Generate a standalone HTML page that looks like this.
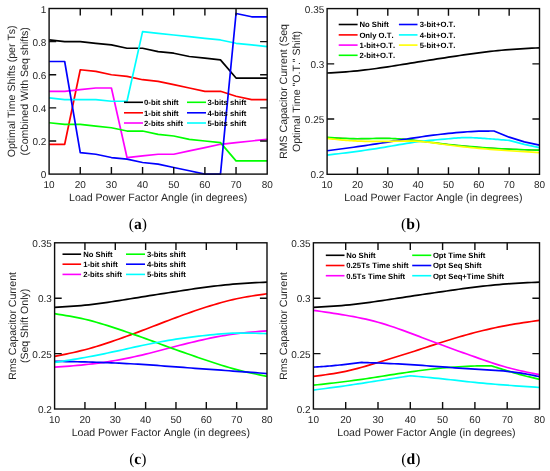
<!DOCTYPE html>
<html lang="en"><head><meta charset="utf-8"><title>Figure</title>
<style>
html,body{margin:0;padding:0;background:#fff;}
svg{display:block;}
text{text-rendering:geometricPrecision;font-kerning:none;}
.tk{font-family:'Liberation Sans', Arial, sans-serif;font-size:10px;fill:#262626;}
.lb{font-family:'Liberation Sans', Arial, sans-serif;font-size:10.55px;fill:#262626;}
.lg{font-family:'Liberation Sans', Arial, sans-serif;font-size:7.7px;font-weight:bold;fill:#000;}
.cap{font-family:'Liberation Serif', 'DejaVu Serif', serif;font-size:15.6px;fill:#000;}
</style></head><body>
<svg width="550" height="471" viewBox="0 0 550 471">
<rect width="550" height="471" fill="#fff"/>
<g>
<path d="M49.10 39.96 L64.68 41.62 L80.26 41.62 L95.84 43.28 L111.41 44.93 L126.99 48.24 L142.57 48.24 L158.15 51.56 L173.73 53.21 L189.31 56.52 L204.89 58.18 L220.46 59.84 L236.04 78.05 L251.62 78.05 L267.20 78.05" fill="none" stroke="#000000" stroke-width="1.7" stroke-linejoin="round"/>
<path d="M49.10 144.29 L64.68 144.29 L80.26 69.77 L95.84 71.43 L111.41 74.74 L126.99 76.40 L142.57 79.71 L158.15 81.36 L173.73 84.68 L189.31 87.99 L204.89 91.30 L220.46 91.30 L236.04 96.27 L251.62 99.58 L267.20 99.58" fill="none" stroke="#ff0000" stroke-width="1.7" stroke-linejoin="round"/>
<path d="M49.10 91.30 L64.68 91.30 L80.26 89.64 L95.84 87.99 L111.41 87.99 L126.99 157.54 L142.57 155.88 L158.15 154.23 L173.73 154.23 L189.31 150.92 L204.89 147.60 L220.46 144.29 L236.04 142.64 L251.62 140.98 L267.20 139.32" fill="none" stroke="#ff00ff" stroke-width="1.7" stroke-linejoin="round"/>
<path d="M49.10 122.76 L64.68 124.42 L80.26 124.42 L95.84 126.08 L111.41 127.73 L126.99 131.04 L142.57 131.04 L158.15 134.36 L173.73 136.01 L189.31 139.32 L204.89 140.98 L220.46 142.64 L236.04 160.85 L251.62 160.85 L267.20 160.85" fill="none" stroke="#00ff00" stroke-width="1.7" stroke-linejoin="round"/>
<path d="M49.10 97.92 L64.68 99.58 L80.26 99.58 L95.84 99.58 L111.41 101.24 L126.99 101.24 L142.57 31.68 L158.15 33.34 L173.73 35.00 L189.31 36.65 L204.89 38.31 L220.46 39.96 L236.04 43.28 L251.62 44.93 L267.20 46.59" fill="none" stroke="#00ffff" stroke-width="1.7" stroke-linejoin="round"/>
<path d="M49.10 61.49 L64.68 61.49 L80.26 152.57 L95.84 154.23 L111.41 157.54 L126.99 159.20 L142.57 162.51 L158.15 164.16 L173.73 167.48 L189.31 170.79 L204.89 174.10 L220.46 174.10 L236.04 13.47 L251.62 16.78 L267.20 16.78" fill="none" stroke="#0000ff" stroke-width="1.7" stroke-linejoin="round"/>
<rect x="49.10" y="8.50" width="218.10" height="165.60" fill="none" stroke="#0d0d0d" stroke-width="1.4"/>
<path d="M80.26 174.10v-7.10 M80.26 8.50v7.10 M111.41 174.10v-7.10 M111.41 8.50v7.10 M142.57 174.10v-7.10 M142.57 8.50v7.10 M173.73 174.10v-7.10 M173.73 8.50v7.10 M204.89 174.10v-7.10 M204.89 8.50v7.10 M236.04 174.10v-7.10 M236.04 8.50v7.10 M49.10 140.98h7.10 M267.20 140.98h-7.10 M49.10 107.86h7.10 M267.20 107.86h-7.10 M49.10 74.74h7.10 M267.20 74.74h-7.10 M49.10 41.62h7.10 M267.20 41.62h-7.10 " stroke="#0d0d0d" stroke-width="1.4" fill="none"/>
<text x="49.10" y="187.90" text-anchor="middle" class="tk">10</text>
<text x="80.26" y="187.90" text-anchor="middle" class="tk">20</text>
<text x="111.41" y="187.90" text-anchor="middle" class="tk">30</text>
<text x="142.57" y="187.90" text-anchor="middle" class="tk">40</text>
<text x="173.73" y="187.90" text-anchor="middle" class="tk">50</text>
<text x="204.89" y="187.90" text-anchor="middle" class="tk">60</text>
<text x="236.04" y="187.90" text-anchor="middle" class="tk">70</text>
<text x="267.20" y="187.90" text-anchor="middle" class="tk">80</text>
<text x="46.30" y="178.20" text-anchor="end" class="tk">0</text>
<text x="46.30" y="145.08" text-anchor="end" class="tk">0.2</text>
<text x="46.30" y="111.96" text-anchor="end" class="tk">0.4</text>
<text x="46.30" y="78.84" text-anchor="end" class="tk">0.6</text>
<text x="46.30" y="45.72" text-anchor="end" class="tk">0.8</text>
<text x="46.30" y="12.60" text-anchor="end" class="tk">1</text>
<text x="158.15" y="200.70" text-anchor="middle" class="lb">Load Power Factor Angle (in degrees)</text>
<text transform="translate(15.00 91.30) rotate(-90)" text-anchor="middle" class="lb">Optimal Time Shifts (per Ts)</text>
<text transform="translate(28.00 91.30) rotate(-90)" text-anchor="middle" class="lb">(Combined With Seq shifts)</text>
<path d="M124.00 102.30H143.00" stroke="#000000" stroke-width="1.6"/>
<text x="144.10" y="105.10" class="lg">0-bit shift</text>
<path d="M124.00 112.80H143.00" stroke="#ff0000" stroke-width="1.6"/>
<text x="144.10" y="115.60" class="lg">1-bit shift</text>
<path d="M124.00 123.00H143.00" stroke="#ff00ff" stroke-width="1.6"/>
<text x="144.10" y="125.80" class="lg">2-bits shift</text>
<path d="M187.00 102.30H206.00" stroke="#00ff00" stroke-width="1.6"/>
<text x="207.40" y="105.10" class="lg">3-bits shift</text>
<path d="M187.00 112.80H206.00" stroke="#0000ff" stroke-width="1.6"/>
<text x="207.40" y="115.60" class="lg">4-bits shift</text>
<path d="M187.00 123.00H206.00" stroke="#00ffff" stroke-width="1.6"/>
<text x="207.40" y="125.80" class="lg">5-bits shift</text>
<text x="137.80" y="229.20" text-anchor="middle" class="cap">(<tspan font-weight="bold">a</tspan>)</text>
</g>
<g>
<path d="M327.10 73.00 L330.89 72.78 L334.69 72.55 L338.48 72.31 L342.27 72.05 L346.06 71.78 L349.86 71.48 L353.65 71.15 L357.44 70.79 L361.24 70.40 L365.03 69.96 L368.82 69.50 L372.61 69.01 L376.41 68.49 L380.20 67.95 L383.99 67.39 L387.79 66.82 L391.58 66.23 L395.37 65.63 L399.16 65.03 L402.96 64.41 L406.75 63.80 L410.54 63.18 L414.34 62.57 L418.13 61.96 L421.92 61.35 L425.71 60.75 L429.51 60.15 L433.30 59.55 L437.09 58.96 L440.89 58.38 L444.68 57.79 L448.47 57.21 L452.26 56.62 L456.06 56.04 L459.85 55.47 L463.64 54.91 L467.44 54.35 L471.23 53.81 L475.02 53.29 L478.81 52.79 L482.61 52.30 L486.40 51.84 L490.19 51.40 L493.99 50.99 L497.78 50.60 L501.57 50.23 L505.36 49.89 L509.16 49.58 L512.95 49.30 L516.74 49.04 L520.54 48.81 L524.33 48.59 L528.12 48.38 L531.91 48.19 L535.71 48.00 L539.50 47.82" fill="none" stroke="#000000" stroke-width="1.7" stroke-linejoin="round"/>
<path d="M327.10 137.40 L330.89 137.64 L334.69 137.87 L338.48 138.09 L342.27 138.29 L346.06 138.46 L349.86 138.59 L353.65 138.69 L357.44 138.73 L361.24 138.72 L365.03 138.67 L368.82 138.60 L372.61 138.52 L376.41 138.44 L380.20 138.39 L383.99 138.37 L387.79 138.40 L389.68 138.44 L391.58 138.49 L393.48 138.57 L395.37 138.65 L397.27 138.76 L399.16 138.88 L401.06 139.02 L402.96 139.17 L404.85 139.34 L406.75 139.53 L408.65 139.72 L410.54 139.93 L412.44 140.15 L414.34 140.37 L416.23 140.60 L418.13 140.83 L421.92 141.30 L425.71 141.77 L429.51 142.24 L433.30 142.70 L437.09 143.16 L440.89 143.61 L444.68 144.05 L448.47 144.47 L452.26 144.88 L456.06 145.26 L459.85 145.63 L463.64 145.98 L467.44 146.32 L471.23 146.64 L475.02 146.94 L478.81 147.24 L482.61 147.52 L486.40 147.79 L490.19 148.04 L493.99 148.28 L497.78 148.51 L501.57 148.73 L505.36 148.93 L509.16 149.11 L512.95 149.28 L516.74 149.44 L520.54 149.59 L524.33 149.73 L528.12 149.86 L531.91 149.98 L535.71 150.10 L539.50 150.22" fill="none" stroke="#ff0000" stroke-width="0.8" stroke-linejoin="round"/>
<path d="M327.10 137.40 L330.89 137.64 L334.69 137.87 L338.48 138.09 L342.27 138.29 L346.06 138.46 L349.86 138.59 L353.65 138.69 L357.44 138.73 L361.24 138.72 L365.03 138.67 L368.82 138.60 L372.61 138.52 L376.41 138.44 L380.20 138.39 L383.99 138.37 L387.79 138.40 L389.68 138.44 L391.58 138.49 L393.48 138.57 L395.37 138.65 L397.27 138.76 L399.16 138.88 L401.06 139.02 L402.96 139.17 L404.85 139.34 L406.75 139.53 L408.65 139.72 L410.54 139.93 L412.44 140.15 L414.34 140.37 L416.23 140.60 L418.13 140.83 L421.92 141.30 L425.71 141.77 L429.51 142.24 L433.30 142.70 L437.09 143.16 L440.89 143.61 L444.68 144.05 L448.47 144.47 L452.26 144.88 L456.06 145.26 L459.85 145.63 L463.64 145.98 L467.44 146.32 L471.23 146.64 L475.02 146.94 L478.81 147.24 L482.61 147.52 L486.40 147.79 L490.19 148.04 L493.99 148.28 L497.78 148.51 L501.57 148.73 L505.36 148.93 L509.16 149.11 L512.95 149.28 L516.74 149.44 L520.54 149.59 L524.33 149.73 L528.12 149.86 L531.91 149.98 L535.71 150.10 L539.50 150.22" fill="none" stroke="#ff00ff" stroke-width="0.8" stroke-linejoin="round"/>
<path d="M327.10 137.40 L330.89 137.64 L334.69 137.87 L338.48 138.09 L342.27 138.29 L346.06 138.46 L349.86 138.59 L353.65 138.69 L357.44 138.73 L361.24 138.72 L365.03 138.67 L368.82 138.60 L372.61 138.52 L376.41 138.44 L380.20 138.39 L383.99 138.37 L387.79 138.40 L389.68 138.44 L391.58 138.49 L393.48 138.57 L395.37 138.65 L397.27 138.76 L399.16 138.88 L401.06 139.02 L402.96 139.17 L404.85 139.34 L406.75 139.53 L408.65 139.72 L410.54 139.93 L412.44 140.15 L414.34 140.37 L416.23 140.60 L418.13 140.83 L421.92 141.30 L425.71 141.77 L429.51 142.24 L433.30 142.70 L437.09 143.16 L440.89 143.61 L444.68 144.05 L448.47 144.47 L452.26 144.88 L456.06 145.26 L459.85 145.63 L463.64 145.98 L467.44 146.32 L471.23 146.64 L475.02 146.94 L478.81 147.24 L482.61 147.52 L486.40 147.79 L490.19 148.04 L493.99 148.28 L497.78 148.51 L501.57 148.73 L505.36 148.93 L509.16 149.11 L512.95 149.28 L516.74 149.44 L520.54 149.59 L524.33 149.73 L528.12 149.86 L531.91 149.98 L535.71 150.10 L539.50 150.22" fill="none" stroke="#00ff00" stroke-width="1.7" stroke-linejoin="round"/>
<path d="M327.10 150.77 L330.89 150.28 L334.69 149.78 L338.48 149.28 L342.27 148.78 L346.06 148.27 L349.86 147.75 L353.65 147.22 L357.44 146.68 L361.24 146.13 L365.03 145.57 L368.82 145.00 L372.61 144.43 L376.41 143.84 L380.20 143.25 L383.99 142.65 L387.79 142.04 L391.58 141.44 L395.37 140.83 L399.16 140.22 L402.96 139.62 L406.75 139.02 L410.54 138.43 L414.34 137.86 L418.13 137.29 L421.92 136.75 L425.71 136.21 L429.51 135.70 L433.30 135.21 L437.09 134.73 L440.89 134.27 L444.68 133.84 L448.47 133.43 L452.26 133.04 L456.06 132.68 L459.85 132.34 L463.64 132.04 L467.44 131.77 L471.23 131.55 L475.02 131.36 L478.81 131.22 L480.71 131.16 L482.61 131.12 L484.50 131.09 L486.40 131.06 L488.30 131.04 L490.19 131.02 L492.09 131.01 L493.99 131.00 L509.16 137.18 L524.33 141.93 L539.50 145.14" fill="none" stroke="#0000ff" stroke-width="1.7" stroke-linejoin="round"/>
<path d="M327.10 155.08 L330.89 154.63 L334.69 154.18 L338.48 153.73 L342.27 153.27 L346.06 152.80 L349.86 152.32 L353.65 151.83 L357.44 151.32 L361.24 150.80 L365.03 150.26 L368.82 149.71 L372.61 149.14 L376.41 148.55 L380.20 147.95 L383.99 147.32 L387.79 146.68 L391.58 146.03 L395.37 145.36 L399.16 144.70 L402.96 144.05 L406.75 143.41 L410.54 142.80 L414.34 142.24 L418.13 141.71 L421.92 141.24 L425.71 140.82 L429.51 140.43 L433.30 140.07 L437.09 139.73 L440.89 139.40 L444.68 139.07 L448.47 138.73 L450.37 138.55 L452.26 138.38 L454.16 138.21 L456.06 138.05 L457.95 137.91 L459.85 137.79 L461.75 137.69 L463.64 137.63 L465.54 137.59 L467.44 137.59 L469.33 137.62 L471.23 137.68 L473.12 137.75 L475.02 137.84 L476.92 137.95 L478.81 138.07 L480.71 138.19 L482.61 138.32 L484.50 138.45 L486.40 138.59 L488.30 138.73 L490.19 138.88 L492.09 139.02 L493.99 139.17 L495.88 139.32 L497.78 139.47 L499.68 139.62 L501.57 139.78 L503.47 139.93 L505.36 140.08 L507.26 140.23 L509.16 140.39 L524.33 144.36 L539.50 147.57" fill="none" stroke="#00ffff" stroke-width="1.7" stroke-linejoin="round"/>
<path d="M327.10 138.40 L329.00 138.62 L330.89 138.85 L332.79 139.07 L334.69 139.28 L336.58 139.49 L338.48 139.69 L340.38 139.88 L342.27 140.06 L344.17 140.22 L346.06 140.37 L347.96 140.51 L349.86 140.64 L351.75 140.76 L353.65 140.86 L355.55 140.96 L357.44 141.05 L361.24 141.20 L365.03 141.31 L368.82 141.40 L372.61 141.45 L376.41 141.47 L380.20 141.47 L383.99 141.44 L387.79 141.38 L391.58 141.30 L395.37 141.22 L399.16 141.14 L402.96 141.08 L406.75 141.06 L410.54 141.09 L414.34 141.20 L418.13 141.38 L421.92 141.66 L425.71 142.02 L429.51 142.45 L433.30 142.93 L437.09 143.44 L440.89 143.97 L444.68 144.51 L448.47 145.03 L452.26 145.52 L456.06 145.98 L459.85 146.43 L463.64 146.84 L467.44 147.24 L471.23 147.62 L475.02 147.99 L478.81 148.34 L482.61 148.68 L486.40 149.02 L490.19 149.34 L493.99 149.65 L497.78 149.95 L501.57 150.23 L505.36 150.51 L509.16 150.77 L512.95 151.02 L516.74 151.26 L520.54 151.49 L524.33 151.71 L528.12 151.92 L531.91 152.13 L535.71 152.33 L539.50 152.54" fill="none" stroke="#ffff00" stroke-width="1.7" stroke-linejoin="round"/>
<rect x="327.10" y="8.60" width="212.40" height="165.70" fill="none" stroke="#0d0d0d" stroke-width="1.4"/>
<path d="M357.44 174.30v-7.10 M357.44 8.60v7.10 M387.79 174.30v-7.10 M387.79 8.60v7.10 M418.13 174.30v-7.10 M418.13 8.60v7.10 M448.47 174.30v-7.10 M448.47 8.60v7.10 M478.81 174.30v-7.10 M478.81 8.60v7.10 M509.16 174.30v-7.10 M509.16 8.60v7.10 M327.10 119.07h7.10 M539.50 119.07h-7.10 M327.10 63.83h7.10 M539.50 63.83h-7.10 " stroke="#0d0d0d" stroke-width="1.4" fill="none"/>
<text x="327.10" y="188.10" text-anchor="middle" class="tk">10</text>
<text x="357.44" y="188.10" text-anchor="middle" class="tk">20</text>
<text x="387.79" y="188.10" text-anchor="middle" class="tk">30</text>
<text x="418.13" y="188.10" text-anchor="middle" class="tk">40</text>
<text x="448.47" y="188.10" text-anchor="middle" class="tk">50</text>
<text x="478.81" y="188.10" text-anchor="middle" class="tk">60</text>
<text x="509.16" y="188.10" text-anchor="middle" class="tk">70</text>
<text x="539.50" y="188.10" text-anchor="middle" class="tk">80</text>
<text x="324.30" y="178.40" text-anchor="end" class="tk">0.2</text>
<text x="324.30" y="123.17" text-anchor="end" class="tk">0.25</text>
<text x="324.30" y="67.93" text-anchor="end" class="tk">0.3</text>
<text x="324.30" y="12.70" text-anchor="end" class="tk">0.35</text>
<text x="433.30" y="200.90" text-anchor="middle" class="lb">Load Power Factor Angle (in degrees)</text>
<text transform="translate(287.00 91.45) rotate(-90)" text-anchor="middle" class="lb">RMS Capacitor Current (Seq</text>
<text transform="translate(300.00 91.45) rotate(-90)" text-anchor="middle" class="lb">Optimal Time "O.T." Shift)</text>
<path d="M338.70 24.50H357.60" stroke="#000000" stroke-width="1.6"/>
<text x="359.40" y="27.30" class="lg">No Shift</text>
<path d="M338.70 34.90H357.60" stroke="#ff0000" stroke-width="1.6"/>
<text x="359.40" y="37.70" class="lg">Only O.T.</text>
<path d="M338.70 45.10H357.60" stroke="#ff00ff" stroke-width="1.6"/>
<text x="359.40" y="47.90" class="lg">1-bit+O.T.</text>
<path d="M338.70 55.30H357.60" stroke="#00ff00" stroke-width="1.6"/>
<text x="359.40" y="58.10" class="lg">2-bit+O.T.</text>
<path d="M398.90 24.50H417.50" stroke="#0000ff" stroke-width="1.6"/>
<text x="419.70" y="27.30" class="lg">3-bit+O.T.</text>
<path d="M398.90 34.90H417.50" stroke="#00ffff" stroke-width="1.6"/>
<text x="419.70" y="37.70" class="lg">4-bit+O.T.</text>
<path d="M398.90 45.10H417.50" stroke="#ffff00" stroke-width="1.6"/>
<text x="419.70" y="47.90" class="lg">5-bit+O.T.</text>
<text x="410.60" y="229.20" text-anchor="middle" class="cap">(<tspan font-weight="bold">b</tspan>)</text>
</g>
<g>
<path d="M54.60 307.40 L58.39 307.17 L62.19 306.94 L65.98 306.70 L69.77 306.44 L73.56 306.17 L77.36 305.87 L81.15 305.54 L84.94 305.18 L88.74 304.78 L92.53 304.35 L96.32 303.88 L100.11 303.39 L103.91 302.87 L107.70 302.33 L111.49 301.77 L115.29 301.19 L119.08 300.60 L122.87 300.00 L126.66 299.40 L130.46 298.78 L134.25 298.17 L138.04 297.55 L141.84 296.93 L145.63 296.32 L149.42 295.71 L153.21 295.10 L157.01 294.50 L160.80 293.91 L164.59 293.32 L168.39 292.73 L172.18 292.14 L175.97 291.55 L179.76 290.97 L183.56 290.39 L187.35 289.81 L191.14 289.25 L194.94 288.69 L198.73 288.15 L202.52 287.63 L206.31 287.12 L210.11 286.63 L213.90 286.17 L217.69 285.73 L221.49 285.31 L225.28 284.92 L229.07 284.56 L232.86 284.22 L236.66 283.91 L240.45 283.62 L244.24 283.36 L248.04 283.13 L251.83 282.91 L255.62 282.70 L259.41 282.51 L263.21 282.32 L267.00 282.13" fill="none" stroke="#000000" stroke-width="1.7" stroke-linejoin="round"/>
<path d="M54.60 356.37 L58.39 355.62 L62.19 354.86 L65.98 354.08 L69.77 353.29 L73.56 352.46 L77.36 351.59 L81.15 350.68 L84.94 349.72 L88.74 348.70 L92.53 347.63 L96.32 346.50 L100.11 345.33 L103.91 344.13 L107.70 342.88 L111.49 341.60 L115.29 340.30 L119.08 338.98 L122.87 337.64 L126.66 336.28 L130.46 334.90 L134.25 333.50 L138.04 332.09 L141.84 330.67 L145.63 329.22 L149.42 327.77 L153.21 326.31 L157.01 324.84 L160.80 323.37 L164.59 321.91 L168.39 320.45 L172.18 319.01 L175.97 317.59 L179.76 316.19 L183.56 314.81 L187.35 313.45 L191.14 312.12 L194.94 310.82 L198.73 309.54 L202.52 308.29 L206.31 307.06 L210.11 305.87 L213.90 304.71 L217.69 303.59 L221.49 302.51 L225.28 301.48 L229.07 300.51 L232.86 299.60 L236.66 298.75 L240.45 297.98 L244.24 297.26 L248.04 296.60 L251.83 295.98 L255.62 295.39 L259.41 294.84 L263.21 294.30 L267.00 293.77" fill="none" stroke="#ff0000" stroke-width="1.7" stroke-linejoin="round"/>
<path d="M54.60 367.12 L58.39 366.86 L62.19 366.59 L65.98 366.32 L69.77 366.03 L73.56 365.73 L77.36 365.41 L81.15 365.06 L84.94 364.68 L88.74 364.27 L92.53 363.83 L96.32 363.35 L100.11 362.84 L103.91 362.30 L107.70 361.72 L111.49 361.11 L115.29 360.47 L119.08 359.79 L122.87 359.09 L126.66 358.34 L130.46 357.57 L134.25 356.76 L138.04 355.93 L141.84 355.06 L145.63 354.15 L149.42 353.22 L153.21 352.26 L157.01 351.29 L160.80 350.29 L164.59 349.29 L168.39 348.29 L172.18 347.28 L175.97 346.29 L179.76 345.30 L183.56 344.34 L187.35 343.39 L191.14 342.46 L194.94 341.55 L198.73 340.66 L202.52 339.80 L206.31 338.97 L210.11 338.17 L213.90 337.41 L217.69 336.68 L221.49 335.99 L225.28 335.33 L229.07 334.73 L232.86 334.17 L236.66 333.66 L240.45 333.20 L244.24 332.78 L248.04 332.41 L251.83 332.06 L255.62 331.75 L259.41 331.45 L263.21 331.16 L267.00 330.89" fill="none" stroke="#ff00ff" stroke-width="1.7" stroke-linejoin="round"/>
<path d="M54.60 313.71 L58.39 314.31 L62.19 314.91 L65.98 315.54 L69.77 316.19 L73.56 316.88 L77.36 317.61 L81.15 318.40 L84.94 319.25 L88.74 320.18 L92.53 321.17 L96.32 322.22 L100.11 323.32 L103.91 324.47 L107.70 325.65 L111.49 326.87 L115.29 328.12 L119.08 329.38 L122.87 330.66 L126.66 331.95 L130.46 333.26 L134.25 334.58 L138.04 335.92 L141.84 337.28 L145.63 338.64 L149.42 340.02 L153.21 341.41 L157.01 342.80 L160.80 344.19 L164.59 345.58 L168.39 346.97 L172.18 348.35 L175.97 349.72 L179.76 351.08 L183.56 352.42 L187.35 353.75 L191.14 355.07 L194.94 356.38 L198.73 357.68 L202.52 358.97 L206.31 360.25 L210.11 361.52 L213.90 362.78 L217.69 364.02 L221.49 365.24 L225.28 366.41 L229.07 367.55 L232.86 368.64 L236.66 369.67 L240.45 370.64 L244.24 371.55 L248.04 372.42 L251.83 373.24 L255.62 374.04 L259.41 374.81 L263.21 375.57 L267.00 376.31" fill="none" stroke="#00ff00" stroke-width="1.7" stroke-linejoin="round"/>
<path d="M54.60 361.36 L58.39 361.41 L62.19 361.47 L65.98 361.53 L69.77 361.59 L73.56 361.66 L77.36 361.73 L81.15 361.82 L84.94 361.91 L88.74 362.01 L92.53 362.13 L96.32 362.26 L100.11 362.39 L103.91 362.53 L107.70 362.69 L111.49 362.85 L115.29 363.02 L119.08 363.19 L122.87 363.38 L126.66 363.57 L130.46 363.77 L134.25 363.98 L138.04 364.20 L141.84 364.44 L145.63 364.68 L149.42 364.93 L153.21 365.20 L157.01 365.47 L160.80 365.75 L164.59 366.04 L168.39 366.32 L172.18 366.61 L175.97 366.90 L179.76 367.18 L183.56 367.46 L187.35 367.74 L191.14 368.01 L194.94 368.29 L198.73 368.56 L202.52 368.84 L206.31 369.11 L210.11 369.39 L213.90 369.66 L217.69 369.94 L221.49 370.22 L225.28 370.49 L229.07 370.77 L232.86 371.05 L236.66 371.33 L240.45 371.61 L244.24 371.88 L248.04 372.16 L251.83 372.44 L255.62 372.71 L259.41 372.99 L263.21 373.27 L267.00 373.54" fill="none" stroke="#0000ff" stroke-width="1.7" stroke-linejoin="round"/>
<path d="M54.60 362.46 L58.39 361.87 L62.19 361.27 L65.98 360.67 L69.77 360.06 L73.56 359.44 L77.36 358.80 L81.15 358.15 L84.94 357.48 L88.74 356.78 L92.53 356.07 L96.32 355.33 L100.11 354.57 L103.91 353.80 L107.70 353.01 L111.49 352.20 L115.29 351.38 L119.08 350.55 L122.87 349.71 L126.66 348.87 L130.46 348.02 L134.25 347.18 L138.04 346.35 L141.84 345.54 L145.63 344.74 L149.42 343.96 L153.21 343.20 L157.01 342.47 L160.80 341.76 L164.59 341.08 L168.39 340.42 L172.18 339.80 L175.97 339.20 L179.76 338.63 L183.56 338.08 L187.35 337.57 L191.14 337.07 L194.94 336.60 L198.73 336.16 L202.52 335.73 L206.31 335.32 L210.11 334.93 L213.90 334.55 L217.69 334.21 L221.49 333.90 L225.28 333.63 L229.07 333.40 L232.86 333.22 L236.66 333.10 L240.45 333.04 L244.24 333.03 L248.04 333.06 L251.83 333.14 L255.62 333.24 L259.41 333.37 L263.21 333.51 L267.00 333.66" fill="none" stroke="#00ffff" stroke-width="1.7" stroke-linejoin="round"/>
<rect x="54.60" y="242.80" width="212.40" height="166.20" fill="none" stroke="#0d0d0d" stroke-width="1.4"/>
<path d="M84.94 409.00v-7.10 M84.94 242.80v7.10 M115.29 409.00v-7.10 M115.29 242.80v7.10 M145.63 409.00v-7.10 M145.63 242.80v7.10 M175.97 409.00v-7.10 M175.97 242.80v7.10 M206.31 409.00v-7.10 M206.31 242.80v7.10 M236.66 409.00v-7.10 M236.66 242.80v7.10 M54.60 353.60h7.10 M267.00 353.60h-7.10 M54.60 298.20h7.10 M267.00 298.20h-7.10 " stroke="#0d0d0d" stroke-width="1.4" fill="none"/>
<text x="54.60" y="422.80" text-anchor="middle" class="tk">10</text>
<text x="84.94" y="422.80" text-anchor="middle" class="tk">20</text>
<text x="115.29" y="422.80" text-anchor="middle" class="tk">30</text>
<text x="145.63" y="422.80" text-anchor="middle" class="tk">40</text>
<text x="175.97" y="422.80" text-anchor="middle" class="tk">50</text>
<text x="206.31" y="422.80" text-anchor="middle" class="tk">60</text>
<text x="236.66" y="422.80" text-anchor="middle" class="tk">70</text>
<text x="267.00" y="422.80" text-anchor="middle" class="tk">80</text>
<text x="51.80" y="413.10" text-anchor="end" class="tk">0.2</text>
<text x="51.80" y="357.70" text-anchor="end" class="tk">0.25</text>
<text x="51.80" y="302.30" text-anchor="end" class="tk">0.3</text>
<text x="51.80" y="246.90" text-anchor="end" class="tk">0.35</text>
<text x="160.80" y="435.60" text-anchor="middle" class="lb">Load Power Factor Angle (in degrees)</text>
<text transform="translate(15.60 325.90) rotate(-90)" text-anchor="middle" class="lb">Rms Capacitor Current</text>
<text transform="translate(28.20 325.90) rotate(-90)" text-anchor="middle" class="lb">(Seq Shift Only)</text>
<path d="M62.50 254.20H81.10" stroke="#000000" stroke-width="1.6"/>
<text x="83.20" y="257.00" class="lg">No Shift</text>
<path d="M62.50 264.20H81.10" stroke="#ff0000" stroke-width="1.6"/>
<text x="83.20" y="267.00" class="lg">1-bit shift</text>
<path d="M62.50 274.40H81.10" stroke="#ff00ff" stroke-width="1.6"/>
<text x="83.20" y="277.20" class="lg">2-bits shift</text>
<path d="M126.00 254.20H145.00" stroke="#00ff00" stroke-width="1.6"/>
<text x="146.90" y="257.00" class="lg">3-bits shift</text>
<path d="M126.00 264.20H145.00" stroke="#0000ff" stroke-width="1.6"/>
<text x="146.90" y="267.00" class="lg">4-bits shift</text>
<path d="M126.00 274.40H145.00" stroke="#00ffff" stroke-width="1.6"/>
<text x="146.90" y="277.20" class="lg">5-bits shift</text>
<text x="137.80" y="463.60" text-anchor="middle" class="cap">(<tspan font-weight="bold">c</tspan>)</text>
</g>
<g>
<path d="M313.40 307.40 L317.44 307.17 L321.47 306.94 L325.51 306.70 L329.55 306.44 L333.59 306.17 L337.62 305.87 L341.66 305.54 L345.70 305.18 L349.74 304.78 L353.77 304.35 L357.81 303.88 L361.85 303.39 L365.89 302.87 L369.92 302.33 L373.96 301.77 L378.00 301.19 L382.04 300.60 L386.07 300.00 L390.11 299.40 L394.15 298.78 L398.19 298.17 L402.22 297.55 L406.26 296.93 L410.30 296.32 L414.34 295.71 L418.38 295.10 L422.41 294.50 L426.45 293.91 L430.49 293.32 L434.52 292.73 L438.56 292.14 L442.60 291.55 L446.64 290.97 L450.67 290.39 L454.71 289.81 L458.75 289.25 L462.79 288.69 L466.82 288.15 L470.86 287.63 L474.90 287.12 L478.94 286.63 L482.98 286.17 L487.01 285.73 L491.05 285.31 L495.09 284.92 L499.12 284.56 L503.16 284.22 L507.20 283.91 L511.24 283.62 L515.27 283.36 L519.31 283.13 L523.35 282.91 L527.39 282.70 L531.42 282.51 L535.46 282.32 L539.50 282.13" fill="none" stroke="#000000" stroke-width="1.7" stroke-linejoin="round"/>
<path d="M313.40 376.31 L317.44 375.81 L321.47 375.30 L325.51 374.76 L329.55 374.19 L333.59 373.57 L337.62 372.89 L341.66 372.15 L345.70 371.33 L349.74 370.42 L353.77 369.43 L357.81 368.37 L361.85 367.25 L365.89 366.10 L369.92 364.90 L373.96 363.69 L378.00 362.46 L382.04 361.24 L386.07 360.01 L390.11 358.78 L394.15 357.55 L398.19 356.30 L402.22 355.05 L406.26 353.78 L410.30 352.49 L414.34 351.19 L418.38 349.87 L422.41 348.55 L426.45 347.22 L430.49 345.89 L434.52 344.57 L438.56 343.26 L442.60 341.97 L446.64 340.69 L450.67 339.45 L454.71 338.22 L458.75 337.03 L462.79 335.86 L466.82 334.72 L470.86 333.62 L474.90 332.55 L478.94 331.51 L482.98 330.51 L487.01 329.55 L491.05 328.63 L495.09 327.75 L499.12 326.91 L503.16 326.11 L507.20 325.35 L511.24 324.63 L515.27 323.95 L519.31 323.30 L523.35 322.68 L527.39 322.08 L531.42 321.50 L535.46 320.93 L539.50 320.36" fill="none" stroke="#ff0000" stroke-width="1.7" stroke-linejoin="round"/>
<path d="M313.40 310.39 L317.44 310.96 L321.47 311.53 L325.51 312.12 L329.55 312.71 L333.59 313.32 L337.62 313.94 L341.66 314.59 L345.70 315.26 L349.74 315.97 L353.77 316.71 L357.81 317.49 L361.85 318.32 L365.89 319.20 L369.92 320.15 L373.96 321.16 L378.00 322.24 L382.04 323.41 L386.07 324.64 L390.11 325.94 L394.15 327.29 L398.19 328.69 L402.22 330.13 L406.26 331.61 L410.30 333.10 L414.34 334.61 L418.38 336.14 L422.41 337.67 L426.45 339.20 L430.49 340.73 L434.52 342.26 L438.56 343.78 L442.60 345.29 L446.64 346.78 L450.67 348.26 L454.71 349.73 L458.75 351.18 L462.79 352.63 L466.82 354.07 L470.86 355.50 L474.90 356.92 L478.94 358.35 L482.98 359.76 L487.01 361.15 L491.05 362.51 L495.09 363.83 L499.12 365.10 L503.16 366.31 L507.20 367.45 L511.24 368.52 L515.27 369.52 L519.31 370.46 L523.35 371.36 L527.39 372.22 L531.42 373.04 L535.46 373.85 L539.50 374.65" fill="none" stroke="#ff00ff" stroke-width="1.7" stroke-linejoin="round"/>
<path d="M313.40 385.18 L317.44 384.75 L321.47 384.32 L325.51 383.88 L329.55 383.44 L333.59 382.98 L337.62 382.51 L341.66 382.03 L345.70 381.52 L349.74 381.00 L353.77 380.45 L357.81 379.89 L361.85 379.31 L365.89 378.72 L369.92 378.11 L373.96 377.49 L378.00 376.87 L382.04 376.23 L386.07 375.60 L390.11 374.96 L394.15 374.32 L398.19 373.69 L402.22 373.08 L406.26 372.47 L410.30 371.88 L414.34 371.31 L418.38 370.77 L422.41 370.24 L426.45 369.74 L430.49 369.27 L434.52 368.82 L438.56 368.40 L442.60 368.00 L446.64 367.64 L450.67 367.31 L454.71 367.00 L458.75 366.73 L462.79 366.50 L466.82 366.30 L470.86 366.14 L474.90 366.01 L476.92 365.96 L478.94 365.92 L480.96 365.89 L482.98 365.86 L484.99 365.84 L487.01 365.82 L489.03 365.80 L491.05 365.79 L493.07 366.42 L495.09 367.04 L497.11 367.67 L499.12 368.29 L501.14 368.92 L503.16 369.54 L505.18 370.16 L507.20 370.77 L509.22 371.39 L511.24 371.99 L513.26 372.59 L515.27 373.18 L517.29 373.76 L519.31 374.33 L521.33 374.89 L523.35 375.43 L525.37 375.95 L527.39 376.46 L529.41 376.95 L531.42 377.44 L533.44 377.91 L535.46 378.38 L537.48 378.84 L539.50 379.31" fill="none" stroke="#00ff00" stroke-width="1.7" stroke-linejoin="round"/>
<path d="M313.40 367.12 L315.42 367.00 L317.44 366.87 L319.46 366.74 L321.47 366.61 L323.49 366.48 L325.51 366.33 L327.53 366.18 L329.55 366.01 L331.57 365.83 L333.59 365.64 L335.61 365.44 L337.62 365.24 L339.64 365.02 L341.66 364.80 L343.68 364.58 L345.70 364.35 L347.72 364.12 L349.74 363.88 L351.76 363.65 L353.77 363.41 L355.79 363.18 L357.81 362.94 L359.83 362.70 L361.85 362.46 L363.87 362.53 L365.89 362.59 L367.91 362.66 L369.92 362.73 L371.94 362.80 L373.96 362.87 L375.98 362.94 L378.00 363.02 L382.04 363.18 L386.07 363.36 L390.11 363.55 L394.15 363.76 L398.19 363.97 L402.22 364.20 L406.26 364.43 L410.30 364.68 L414.34 364.94 L418.38 365.20 L422.41 365.47 L426.45 365.74 L430.49 366.03 L434.52 366.31 L438.56 366.60 L442.60 366.90 L446.64 367.19 L450.67 367.48 L454.71 367.78 L458.75 368.06 L462.79 368.34 L466.82 368.61 L470.86 368.87 L474.90 369.11 L478.94 369.34 L482.98 369.56 L487.01 369.79 L491.05 370.03 L495.09 370.30 L499.12 370.59 L503.16 370.93 L507.20 371.33 L509.22 371.55 L511.24 371.78 L513.26 372.04 L515.27 372.31 L517.29 372.59 L519.31 372.89 L521.33 373.21 L523.35 373.54 L525.37 373.90 L527.39 374.26 L529.41 374.64 L531.42 375.03 L533.44 375.43 L535.46 375.83 L537.48 376.24 L539.50 376.65" fill="none" stroke="#0000ff" stroke-width="1.7" stroke-linejoin="round"/>
<path d="M313.40 390.05 L317.44 389.53 L321.47 389.01 L325.51 388.49 L329.55 387.96 L333.59 387.42 L337.62 386.87 L341.66 386.31 L345.70 385.73 L349.74 385.14 L353.77 384.53 L357.81 383.92 L361.85 383.29 L365.89 382.66 L369.92 382.02 L373.96 381.38 L378.00 380.75 L382.04 380.11 L386.07 379.48 L390.11 378.86 L394.15 378.24 L398.19 377.62 L402.22 377.00 L406.26 376.38 L410.30 375.76 L414.34 376.13 L418.38 376.50 L422.41 376.87 L426.45 377.25 L430.49 377.64 L434.52 378.03 L438.56 378.44 L442.60 378.86 L446.64 379.30 L450.67 379.75 L454.71 380.20 L458.75 380.66 L462.79 381.11 L466.82 381.56 L470.86 381.99 L474.90 382.41 L478.94 382.81 L482.98 383.19 L487.01 383.55 L491.05 383.90 L495.09 384.23 L499.12 384.56 L503.16 384.87 L507.20 385.18 L511.24 385.48 L515.27 385.78 L519.31 386.07 L523.35 386.36 L527.39 386.65 L531.42 386.94 L535.46 387.22 L539.50 387.50" fill="none" stroke="#00ffff" stroke-width="1.7" stroke-linejoin="round"/>
<rect x="313.40" y="242.80" width="226.10" height="166.20" fill="none" stroke="#0d0d0d" stroke-width="1.4"/>
<path d="M345.70 409.00v-7.10 M345.70 242.80v7.10 M378.00 409.00v-7.10 M378.00 242.80v7.10 M410.30 409.00v-7.10 M410.30 242.80v7.10 M442.60 409.00v-7.10 M442.60 242.80v7.10 M474.90 409.00v-7.10 M474.90 242.80v7.10 M507.20 409.00v-7.10 M507.20 242.80v7.10 M313.40 353.60h7.10 M539.50 353.60h-7.10 M313.40 298.20h7.10 M539.50 298.20h-7.10 " stroke="#0d0d0d" stroke-width="1.4" fill="none"/>
<text x="313.40" y="422.80" text-anchor="middle" class="tk">10</text>
<text x="345.70" y="422.80" text-anchor="middle" class="tk">20</text>
<text x="378.00" y="422.80" text-anchor="middle" class="tk">30</text>
<text x="410.30" y="422.80" text-anchor="middle" class="tk">40</text>
<text x="442.60" y="422.80" text-anchor="middle" class="tk">50</text>
<text x="474.90" y="422.80" text-anchor="middle" class="tk">60</text>
<text x="507.20" y="422.80" text-anchor="middle" class="tk">70</text>
<text x="539.50" y="422.80" text-anchor="middle" class="tk">80</text>
<text x="310.60" y="413.10" text-anchor="end" class="tk">0.2</text>
<text x="310.60" y="357.70" text-anchor="end" class="tk">0.25</text>
<text x="310.60" y="302.30" text-anchor="end" class="tk">0.3</text>
<text x="310.60" y="246.90" text-anchor="end" class="tk">0.35</text>
<text x="426.45" y="435.60" text-anchor="middle" class="lb">Load Power Factor Angle (in degrees)</text>
<text transform="translate(287.00 325.90) rotate(-90)" text-anchor="middle" class="lb">Rms Capacitor Current</text>
<path d="M325.80 255.30H344.50" stroke="#000000" stroke-width="1.6"/>
<text x="346.20" y="258.10" class="lg">No Shift</text>
<path d="M325.80 265.50H344.50" stroke="#ff0000" stroke-width="1.6"/>
<text x="346.20" y="268.30" class="lg">0.25Ts Time shift</text>
<path d="M325.80 275.70H344.50" stroke="#ff00ff" stroke-width="1.6"/>
<text x="346.20" y="278.50" class="lg">0.5Ts Time Shift</text>
<path d="M412.20 255.30H431.30" stroke="#00ff00" stroke-width="1.6"/>
<text x="432.90" y="258.10" class="lg">Opt Time Shift</text>
<path d="M412.20 265.50H431.30" stroke="#0000ff" stroke-width="1.6"/>
<text x="432.90" y="268.30" class="lg">Opt Seq Shift</text>
<path d="M412.20 275.70H431.30" stroke="#00ffff" stroke-width="1.6"/>
<text x="432.90" y="278.50" class="lg">Opt Seq+Time Shift</text>
<text x="410.80" y="463.60" text-anchor="middle" class="cap">(<tspan font-weight="bold">d</tspan>)</text>
</g>
</svg>
</body></html>
